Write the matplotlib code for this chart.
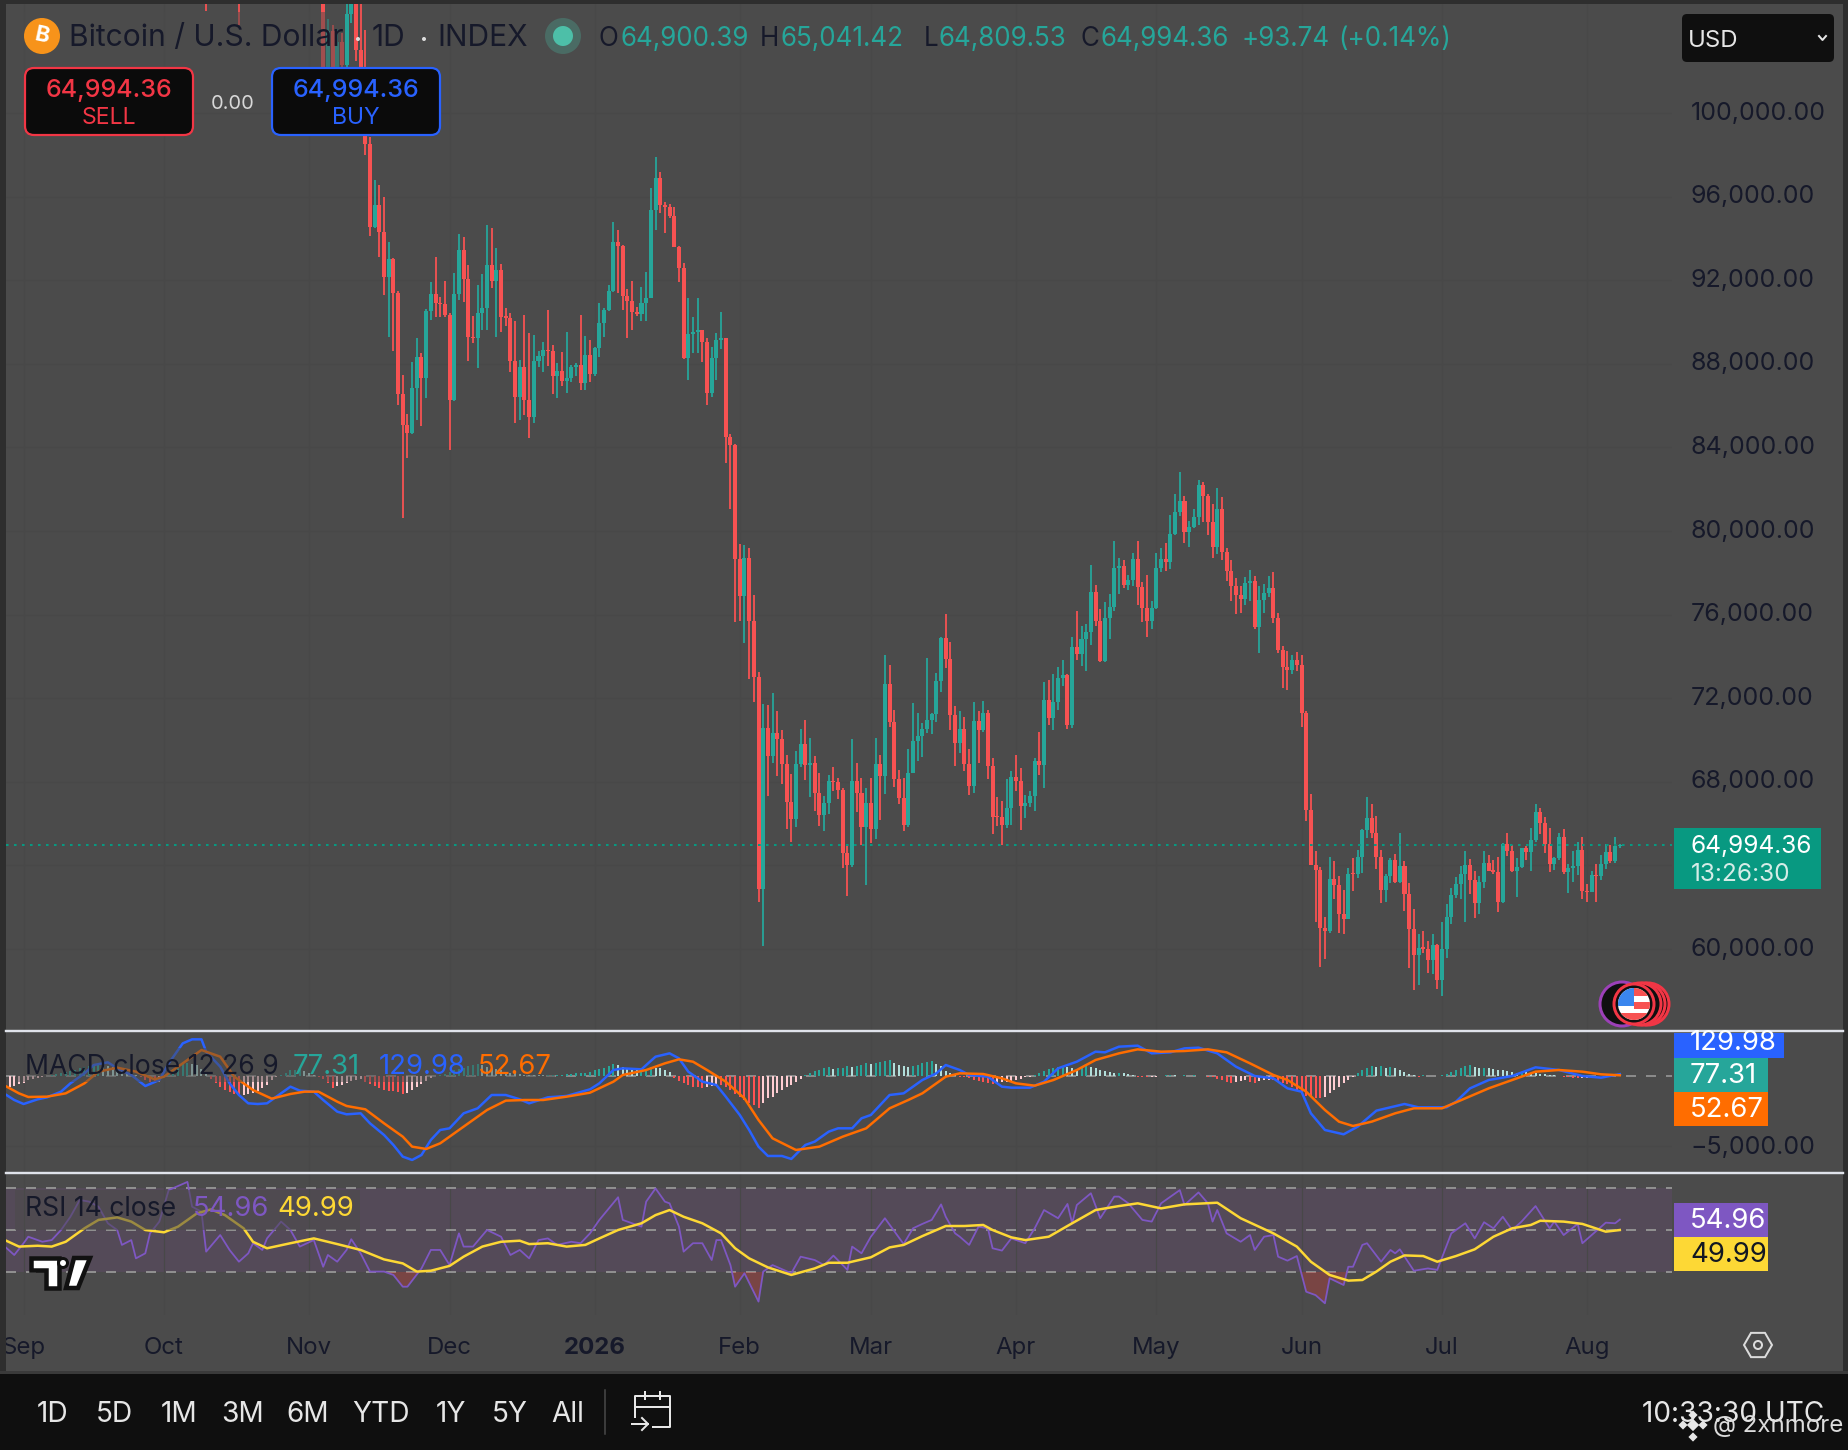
import numpy as np
import matplotlib
matplotlib.use("Agg")
import matplotlib.pyplot as plt
from matplotlib.patches import Rectangle, Circle, FancyBboxPatch, Polygon
from matplotlib.transforms import ScaledTranslation

plt.rcParams['font.family'] = ['Inter', 'DejaVu Sans']

W, H = 1848, 1450
BG = '#4b4b4b'
DARK = '#16192a'
TEAL = '#26a69a'
RED = '#f75252'

# days counted from 1 Sep 2025
month_days = [0, 30, 61, 91, 122, 153, 181, 212, 242, 273, 303, 334]
month_labels = ['Sep', 'Oct', 'Nov', 'Dec', '2026', 'Feb', 'Mar', 'Apr', 'May', 'Jun', 'Jul', 'Aug']

# candles d64..d341, read against the label centres, gridlines sit 110 USD higher
read_shift = 110
first_day = 64
first_open = 106000
closes = [
    101700,103800,101700,103300,102200,104650,105900,102900,101700,98400,
    94450,95485,94180,92055,92880,91300,86440,84960,84590,86750,
    88200,87225,90430,91230,90810,90750,90220,86155,91230,93330,
    91960,89185,89100,90300,90540,92615,91865,92400,90140,90100,
    88020,86315,87750,86155,85360,88020,88260,88550,88500,87300,
    87545,87065,87190,87750,87830,86950,88310,87400,88630,89855,
    90460,91370,93700,93540,91130,90910,90380,90270,90780,91050,
    95245,96760,95485,95375,94960,93490,92455,88150,89300,89425,
    89500,88945,86475,88150,89025,89100,84397,84020,78552,76792,
    78600,75595,72912,62744,70468,69118,70229,69956,68725,66930,
    66127,68725,69700,68674,68810,67357,66298,66880,67922,67870,
    67495,64486,63906,67922,67357,65735,66880,65650,68725,68178,
    72570,70742,68007,67135,65820,68332,69837,70058,70417,70827,
    71118,72707,74758,73767,71083,69750,70417,68760,67700,70797,
    70366,71164,68660,66220,66188,65820,66618,68102,67942,66746,
    66857,67208,68883,68692,71802,70957,71706,72870,72998,70606,
    74338,74003,74721,75056,76954,75582,73668,75710,76252,78134,
    78214,77305,77544,78549,77225,76204,75566,76204,78118,78549,
    78405,79745,80798,81324,79841,80064,80559,82090,81563,80319,
    79123,80925,78884,77975,77257,76826,76635,77400,77496,75295,
    76587,76922,77161,75726,74195,73381,73238,73716,73477,71180,
    66539,63907,63668,60892,60749,63237,62950,61562,61323,63476,
    63460,64290,65582,66156,65438,64290,62711,63380,64146,63093,
    63859,62519,60845,59600,59935,59900,59361,60079,58404,59887,
    61419,62471,62998,63476,63907,63189,62088,63093,64003,63620,
    63590,62136,64912,64577,63620,63811,64720,64529,65103,66443,
    65900,64912,63955,64242,65247,63572,63763,63859,64625,62663,
    62600,63428,63380,63955,64529,64098,64816,64884]
highs = [
    106500,104400,104100,103900,103700,105100,106500,107400,105200,103860,
    98750,96680,96440,95850,93700,92930,91370,87350,85470,87990,
    89110,88390,90510,91785,92980,91100,91850,90300,92215,94100,
    93970,92615,90175,91660,92185,94530,94370,93410,92650,90540,
    90335,89935,88070,90220,89345,89265,88520,88950,90460,88790,
    87910,88470,89425,87830,87940,90220,89215,89025,88710,90780,
    90540,91660,94690,94290,93580,91465,91850,90620,91580,92300,
    96285,97765,97050,95645,95535,95375,93525,92695,91020,90145,
    91020,89530,89100,88710,89345,90350,89140,84533,84050,79270,
    79220,79082,76826,73135,71596,71545,72143,71289,70383,69152,
    68264,69357,70400,70827,69974,69118,68332,67187,68212,68588,
    68093,67615,64914,69922,68776,68093,67615,68093,70007,69152,
    73938,73476,71323,68435,68076,69460,71682,71203,70690,73818,
    71186,73083,74810,75903,74570,71511,71271,70981,69460,71690,
    71276,71738,71324,69011,67145,66970,68022,68405,69170,68548,
    67256,67448,69011,70271,72680,72760,73046,73381,73716,73046,
    74816,76049,75343,75439,78262,77289,76156,76475,76858,79410,
    78581,78501,77783,78820,79410,77448,77783,76539,78836,79075,
    79315,80654,81659,82712,81563,80367,80941,82329,82233,81659,
    81181,81946,81516,79075,78501,77640,77257,77688,78023,77735,
    77257,77353,77735,77927,75965,74386,74147,73955,74099,73950,
    71260,67304,64577,63795,61419,64290,64098,63380,62711,63763,
    64242,64625,65629,67161,66826,66251,64625,63476,64242,64433,
    65438,64098,63046,61802,60605,60749,60254,60605,60120,61180,
    62041,62806,63333,63859,64577,64194,63620,63380,64577,64385,
    64146,64290,64960,65438,64864,64242,64720,64816,65677,66826,
    66634,66204,65677,64290,65438,65629,63955,64577,64992,65247,
    62998,63620,63955,64385,64912,64864,65247,64930]
lows = [
    100500,100800,100500,100000,101700,101700,104180,102400,100000,97880,
    94020,94370,93000,91180,89186,88520,85915,80525,83395,84550,
    85200,84930,86270,89985,90145,90145,90150,83760,86100,90940,
    90860,88020,88865,87700,89505,89505,91500,89185,89425,89695,
    87510,85070,85200,85440,84350,85040,87750,87510,87780,86430,
    86270,86825,86505,87030,87305,86635,86635,87030,87305,88200,
    89185,90430,91330,91300,90460,89140,89505,90175,89950,89950,
    91020,94290,95085,94130,94850,93460,91815,88120,87110,88390,
    88390,87990,85915,86315,87110,88600,83150,80945,75527,75595,
    74536,72827,71716,62146,60043,67221,68810,68178,67785,65650,
    65016,65735,68605,67990,67152,66504,65769,65529,66333,67443,
    67067,63770,62436,63820,66452,64880,62965,64965,65170,66076,
    67307,70520,67648,66845,65546,65735,68300,68896,69067,70229,
    70178,70742,72177,73340,70383,68639,69289,68417,67273,67368,
    68803,70287,68022,65390,65773,64864,65661,65820,67447,65581,
    66172,66698,66507,68213,67607,70606,70367,71324,72472,70414,
    70478,73716,73429,73206,74434,75343,73640,73636,74721,76061,
    76874,77145,77065,77273,76348,75518,74833,75199,76156,77911,
    77975,78070,79700,80606,79315,79123,80020,80176,80319,79697,
    78597,78788,78501,77496,76539,75917,75965,76348,76539,75199,
    74051,75965,76730,75486,74051,72376,72281,73046,73190,70525,
    66012,63900,61180,59026,59409,60653,62280,60653,60605,61300,
    62663,63285,63524,65199,65199,63715,62088,62136,63046,63050,
    63050,61706,58978,57926,58165,59696,58739,58691,57973,57639,
    59457,61084,62328,62280,61180,62519,61371,61562,62806,63600,
    63476,61658,62088,64337,63572,62376,63770,64146,63620,64992,
    65390,64481,63572,63668,64146,63476,62567,63093,63428,62280,
    62136,62600,62136,63189,63715,64003,64003,64700]

# only the lower wicks of these October days reach into the view
stub_days = [39, 46]
stub_lows = [104880, 104210]
stub_highs = [122000, 112000]

last_price = 64994.36
price_ticks = [60000, 64000, 68000, 72000, 76000, 80000, 84000, 88000, 92000, 96000, 100000]

macd_days = [-4,-2,0,3,5,8,10,13,15,18,20,23,26,29,31,34,36,38,39,42,44,46,48,50,52,54,57,59,62,64,
    67,69,72,74,77,79,81,83,85,87,89,91,94,97,100,103,106,108,112,116,121,123,126,128,132,135,138,140,142,145,
    148,150,153,155,157,159,162,164,167,169,172,174,177,179,181,185,188,192,195,197,200,202,206,209,211,215,218,221,225,229,
    231,234,238,241,245,248,251,255,259,263,267,270,273,275,278,282,285,289,292,295,298,304,306,309,313,318,323,328,333,337,341]
macd_vals = [-1285,-1714,-2000,-1666,-1523,-1119,-524,190,785,976,547,71,-714,-286,904,2332,2618,2618,1737,666,-524,-1357,-1952,-2000,-1952,-1476,-762,-1047,-1119,-1714,
    -2547,-2737,-2666,-3380,-4213,-4927,-5760,-5998,-5641,-4570,-3856,-3737,-2666,-2309,-1357,-1357,-1666,-1952,-1523,-1428,-952,-524,428,547,476,1380,1618,1261,309,-405,
    -643,-1476,-2785,-3856,-5046,-5712,-5712,-5926,-4927,-4689,-3975,-3737,-3737,-3023,-2785,-1357,-1238,-286,190,785,428,71,-48,-762,-833,-833,-405,547,1023,1737,
    1690,2094,2166,1618,1690,1975,2023,1618,666,0,-167,-881,-1119,-2666,-3856,-4165,-3618,-2475,-2237,-2000,-2237,-2237,-1833,-881,-286,0,619,428,0,-119,130]
signal_days = [-4,-1,1,5,9,13,16,20,24,28,30,34,38,42,45,49,53,57,60,63,67,69,73,77,81,83,86,89,94,99,
    103,107,111,116,121,126,128,133,137,140,143,146,150,154,157,160,165,170,175,180,185,189,192,197,200,205,209,212,216,220,
    225,229,234,238,243,248,253,257,262,267,270,274,278,281,284,288,293,297,303,308,313,318,323,328,333,337,341]
signal_vals = [-690,-1238,-1499,-1476,-1238,-524,309,595,309,-238,-48,904,1856,1380,-48,-1000,-1618,-1285,-1119,-1119,-1833,-2142,-2380,-3380,-4332,-5046,-5212,-4808,-3618,-2428,
    -1761,-1714,-1714,-1476,-1190,-405,71,428,904,1190,1023,428,-405,-1595,-3142,-4451,-5284,-5046,-4332,-3737,-2309,-1714,-1238,-48,190,143,-167,-524,-690,-286,
    428,1142,1618,1904,1737,1785,1904,1690,904,71,-286,-1119,-2428,-3261,-3570,-3261,-2666,-2309,-2309,-1595,-881,-286,309,428,309,119,53]
hist_start = -4
hist_vals = [-830,-780,-700,-600,-480,-300,-200,-120,-50,30,
    90,120,180,260,350,450,560,650,700,760,
    800,780,720,620,520,420,300,180,80,-80,
    -250,-450,-520,-400,-100,200,500,750,900,950,
    850,760,500,200,-200,-500,-800,-1000,-1150,-1300,
    -1400,-1350,-1300,-1200,-1050,-850,-650,-300,-100,100,
    250,400,450,500,350,200,50,-100,-200,-500,
    -850,-700,-650,-500,-350,-250,-200,-400,-550,-700,
    -850,-1000,-1050,-1100,-1150,-1300,-1200,-1000,-800,-600,
    -350,-150,0,80,150,300,450,500,600,700,
    800,850,780,650,550,500,400,300,250,200,
    150,100,80,60,50,40,40,60,80,100,
    130,150,180,200,250,300,400,500,600,700,
    850,800,650,500,450,400,400,500,650,600,
    550,450,300,-150,-350,-500,-650,-750,-800,-850,
    -750,-700,-600,-650,-800,-1000,-1300,-1500,-1700,-1900,
    -2100,-2300,-1900,-1600,-1500,-1200,-1000,-800,-650,-400,
    -200,50,200,350,450,600,650,500,550,600,
    700,650,700,800,900,850,950,1000,1050,1150,
    950,800,700,650,750,800,900,1000,1050,850,
    700,350,250,100,-50,-100,-150,-250,-350,-450,
    -500,-550,-500,-450,-400,-350,-300,-200,-100,-50,
    100,200,350,500,600,650,700,650,600,500,
    650,700,650,550,450,350,300,250,250,200,
    150,50,-50,-100,-100,-80,-60,-30,50,80,
    60,30,50,30,60,30,20,-40,-100,-200,
    -300,-450,-500,-400,-350,-300,-400,-500,-350,-300,
    -250,-300,-350,-500,-600,-800,-1000,-1250,-1400,-1500,
    -1550,-1600,-1500,-1200,-1000,-750,-500,-300,-100,250,
    400,600,700,650,700,600,650,550,450,300,
    150,50,-50,50,30,-30,30,50,150,300,
    450,600,750,800,650,600,600,550,500,450,
    400,350,300,250,300,280,250,200,150,120,
    100,80,20,-40,-80,-120,-150,-130,-110,-90,
    -60,-30,0,30,50,77]

rsi_days = [-4,-2,0,1,4,6,8,10,12,14,16,18,20,21,23,24,26,27,29,31,35,36,38,39,42,44,46,48,49,51,
    52,55,57,59,62,64,65,67,69,70,72,74,77,79,81,82,85,87,89,91,93,94,96,99,102,104,106,108,110,112,
    114,117,119,121,123,127,128,132,133,135,137,138,140,141,143,145,147,148,149,151,152,154,157,158,160,164,166,169,171,173,
    176,177,179,181,184,188,190,192,194,196,197,199,200,202,204,206,207,209,211,214,216,218,221,223,224,225,228,230,233,234,
    236,239,241,243,247,248,251,253,254,255,257,260,262,263,265,267,268,270,272,274,276,278,279,282,283,284,286,287,290,292,
    293,294,297,300,302,305,308,310,312,314,316,318,320,323,326,327,329,332,333,335,338,340,341]
rsi_vals = [42.1,38.1,43.7,46.8,44.4,45.2,50,56.3,64.3,63.5,61.1,53.2,50,42.9,45.2,36.5,38.9,48.4,54,69,72.9,61.1,58.7,39.7,47.6,40.5,34.9,38.9,43.7,40.5,
    46,54,50,42.1,45.2,32.5,38.1,34.9,40.5,45.6,38.9,30.2,30.2,28.6,23,23,31.7,40.5,40.5,33.3,48.4,42.1,42.1,50,46.8,38.1,40.5,36.5,45.2,46,
    42.9,44.4,43.7,48.4,54.8,65.6,54.8,51.6,63.5,69.8,63.5,62.7,51.6,39.7,43.7,43.7,35.7,45.2,45.2,33.3,23,29.4,15.9,30.2,33.3,29.4,37.3,35.7,33.3,37.8,
    31,42.1,38.9,46.8,55.6,43.3,50.8,52.9,54.8,62.2,56.3,48.4,46.8,42.9,51.6,50.8,41.3,40.2,46,43.7,50.8,59.5,55.6,62.4,53.2,61.9,67.5,55.6,65.9,65.9,
    62.7,54.8,54,62.7,69,61.9,67.9,62.7,54,59.5,48.4,44.4,47.6,40.5,46.8,47.6,37.3,35.4,37.6,20.6,19,15.1,27,23.8,32.5,32.5,42.9,43.7,34.9,40.5,
    38.9,40.8,30.6,31.7,31,48.4,53.2,46,53.7,50.8,56.3,50,54,61.4,50.8,54,47.6,52.9,43.7,47.6,53.5,53.2,54.96]
ma_days = [-4,-1,3,6,9,13,16,20,23,26,30,33,37,40,43,47,49,52,57,62,67,72,77,81,84,87,91,94,98,102,
    106,108,112,116,120,123,127,132,135,138,141,145,149,152,155,159,164,169,172,176,181,185,188,192,197,201,205,207,211,214,
    219,224,229,234,238,243,248,255,260,267,272,275,279,283,286,289,292,295,299,302,306,310,314,318,322,324,329,333,338,341]
ma_vals = [45.2,42.1,42.5,42.1,44.4,50.8,54.8,56,54,50,48.9,51.6,57.9,59.8,57.1,50.8,44.4,41.3,43.7,46,43.3,40.5,36,34.1,30.2,30.6,32.9,37.3,42.1,44.4,
    44.9,43.3,43.7,42.1,42.9,46,50,53.2,57.1,59.5,56.3,53.2,48.4,41.3,36.5,32.2,28.6,31.7,34.4,34.4,37,41.7,42.9,47.1,51.9,51.9,52.4,50,46.5,45.2,
    46.8,53.2,59.5,61.4,62.7,60.3,62.2,63,55.6,48.4,42.1,34.9,28.6,25.9,26.2,30.2,34.9,37.9,37.6,34.9,37.6,40.8,46.8,50.8,52.4,54.4,54,52.9,49.2,49.99]

range_buttons = ['1D', '5D', '1M', '3M', '6M', 'YTD', '1Y', '5Y', 'All']
range_button_px = [53, 114, 179, 243, 308, 381, 451, 510, 568]


def fs(px):
    return px * 0.72


def lw(px):
    return px * 0.72


def px_axes(x0, x1, ytop, ybot, z=1):
    a = fig.add_axes([x0 / W, 1 - ybot / H, (x1 - x0) / W, (ybot - ytop) / H], zorder=z)
    a.set_facecolor(BG)
    for s in a.spines.values():
        s.set_visible(False)
    return a


def day_of(px):
    return (px - 23.6) / 4.681


def lift_labels(a, px):
    # scale labels sit a little above their gridline
    for t in a.get_yticklabels():
        t.set_transform(t.get_transform() + ScaledTranslation(0, px / 100, fig.dpi_scale_trans))


fig = plt.figure(figsize=(W / 100, H / 100), dpi=100, facecolor=BG)

# price pane
ax = px_axes(6, 1672, 4, 1030)
ax.set_xlim(day_of(6), day_of(1672))
ax.set_ylim(100000 - (1030 - 113) * 47.85, 100000 - (4 - 113) * 47.85)

c = np.array(closes, float) + read_shift
o = np.r_[first_open + read_shift, c[:-1]]
hi = np.array(highs, float) + read_shift
lo = np.array(lows, float) + read_shift
days = np.arange(first_day, first_day + len(c))
cols = np.where(c >= o, TEAL, RED)
ax.vlines(stub_days, stub_lows, stub_highs, color=RED, lw=lw(1.8), zorder=2)
ax.vlines(days, lo, hi, color=cols, lw=lw(1.8), zorder=2)
body = np.maximum(np.abs(c - o), 60)
ax.bar(days, body, bottom=np.minimum(c, o), width=0.86, color=cols, linewidth=0, zorder=3)
ax.axhline(last_price, color='#089981', lw=lw(2), ls=(0, (1.3, 2.7)), zorder=4)

ax.set_yticks(price_ticks)
# the 64,000 label sits behind the last price tag
ax.set_yticklabels(['' if v == 64000 else f'{v:,.2f}' for v in price_ticks])
ax.yaxis.tick_right()
ax.tick_params(axis='y', length=0, pad=13.5, labelsize=fs(25), labelcolor=DARK)
lift_labels(ax, 2.3)
ax.set_xticks(month_days)
ax.tick_params(axis='x', length=0, labelbottom=False)
ax.grid(True, color='#484848', lw=lw(1.2))
ax.set_axisbelow(True)

# MACD pane
ax2 = px_axes(6, 1672, 1032, 1172)
ax2.set_xlim(ax.get_xlim())
ax2.set_ylim((1076 - 1172) * 5000 / 70, (1076 - 1032) * 5000 / 70)
hv = np.array(hist_vals, float)
hd = np.arange(hist_start, hist_start + len(hv))
prev = np.r_[hv[0], hv[:-1]]
hc = []
for v, p in zip(hv, prev):
    if v >= 0:
        hc.append('#26a69a' if v >= p else '#b2dfdb')
    else:
        hc.append('#ff5252' if v <= p else '#ffcdd2')
ax2.vlines(hd, 0, hv, color=hc, lw=lw(2), zorder=2)
ax2.axhline(0, color='#8a8a8a', lw=lw(2), ls=(0, (5, 5)), zorder=1)
ax2.plot(macd_days, macd_vals, color='#2962ff', lw=lw(2.5), zorder=3)
ax2.plot(signal_days, signal_vals, color='#ff6d00', lw=lw(2.5), zorder=4)
ax2.set_yticks([-5000])
ax2.set_yticklabels(['\u22125,000.00'])
ax2.yaxis.tick_right()
ax2.tick_params(axis='y', length=0, pad=13.5, labelsize=fs(25), labelcolor=DARK)
lift_labels(ax2, 1.5)
ax2.set_xticks(month_days)
ax2.tick_params(axis='x', length=0, labelbottom=False)
ax2.grid(True, color='#484848', lw=lw(1.2))
ax2.set_axisbelow(True)

# RSI pane
ax3 = px_axes(6, 1672, 1174, 1315)
ax3.set_xlim(ax.get_xlim())
ax3.set_ylim(50 + (1230 - 1315) / 2.1, 50 + (1230 - 1174) / 2.1)
ax3.axhspan(30, 70, color='#544a58', lw=0, zorder=0.5)
for lev in [30, 50, 70]:
    ax3.axhline(lev, color='#8f8f8f', lw=lw(2), ls=(0, (5, 5)), zorder=1)
ax3.fill_between(rsi_days, rsi_vals, 30, where=np.array(rsi_vals) < 30, interpolate=True,
                 color='#e53935', alpha=0.3, lw=0, zorder=2)
ax3.plot(rsi_days, rsi_vals, color='#7e57c2', lw=lw(1.8), zorder=3)
ax3.plot(ma_days, ma_vals, color='#fdd835', lw=lw(2.5), zorder=4)
ax3.set_yticks([])
ax3.set_xticks(month_days)
ax3.set_xticklabels(month_labels)
ax3.tick_params(axis='x', length=0, pad=15.5, labelsize=fs(24), labelcolor=DARK)
ax3.get_xticklabels()[4].set_fontweight('bold')
ax3.grid(True, axis='x', color='#484848', lw=lw(1.2))
ax3.set_axisbelow(True)

# overlay in pixel coordinates, for the widgets on top of the chart
ov = fig.add_axes([0, 0, 1, 1], zorder=5)
ov.set_xlim(0, W)
ov.set_ylim(H, 0)
ov.axis('off')
ov.patch.set_alpha(0)

# window edges and bottom bar
ov.add_patch(Rectangle((0, 0), W, 4, color='#2e2e2e', lw=0))
ov.add_patch(Rectangle((0, 0), 6, H, color='#2e2e2e', lw=0))
ov.add_patch(Rectangle((1843, 0), 5, H, color='#2e2e2e', lw=0))
ov.add_patch(Rectangle((0, 1371), W, 4, color='#3a3a3a', lw=0))
ov.add_patch(Rectangle((0, 1374), W, 76, color='#0f0f0f', lw=0))
ov.plot([6, 1843], [1031, 1031], color='#e0e3eb', lw=lw(2.4))
ov.plot([6, 1843], [1173, 1173], color='#e0e3eb', lw=lw(2.4))

# translucent legend strips over the lines
ov.add_patch(Rectangle((10, 12), 335, 56, color=BG, alpha=0.5, lw=0))
ov.add_patch(Rectangle((15, 1048), 540, 34, color=BG, alpha=0.5, lw=0))
ov.add_patch(Rectangle((15, 1190), 345, 40, color=BG, alpha=0.55, lw=0))

# title row
ov.add_patch(Circle((42, 36), 18, color='#f7931a', lw=0))
ov.text(42, 36, 'B', color='white', fontsize=fs(22), fontweight='bold', ha='center', va='center', rotation=-12)
ov.text(69, 38, 'Bitcoin / U.S. Dollar', color=DARK, fontsize=fs(30), va='center')
ov.text(372, 38, '1D', color=DARK, fontsize=fs(30), va='center')
ov.text(437, 38, 'INDEX', color=DARK, fontsize=fs(30), va='center')
ov.add_patch(Circle((358, 39), 2, color='#dddddd', lw=0))
ov.add_patch(Circle((424, 39), 2, color='#dddddd', lw=0))
ov.add_patch(Circle((563, 36), 18, color='#4a6b64', lw=0))
ov.add_patch(Circle((563, 36), 10, color='#4dbfa8', lw=0))
row = [(598, 'O', DARK), (620, '64,900.39', TEAL), (760, 'H', DARK), (781, '65,041.42', TEAL),
       (924, 'L', DARK), (939, '64,809.53', TEAL), (1080, 'C', DARK), (1101, '64,994.36', TEAL),
       (1241, '+93.74', TEAL), (1338, '(+0.14%)', TEAL)]
for x, s, col in row:
    ov.text(x, 39, s, color=col, fontsize=fs(26), va='center')

# buy and sell boxes
ov.add_patch(FancyBboxPatch((25, 68), 168, 67, boxstyle='round,pad=0,rounding_size=9', fc='#0b0b0b', ec='#f23645', lw=lw(2.2)))
ov.text(109, 90, '64,994.36', color='#f23645', fontsize=fs(25), fontweight='medium', ha='center', va='center')
ov.text(109, 118, 'SELL', color='#f23645', fontsize=fs(23), ha='center', va='center')
ov.text(233, 104, '0.00', color='#d8d8d8', fontsize=fs(20), ha='center', va='center')
ov.add_patch(FancyBboxPatch((272, 68), 168, 67, boxstyle='round,pad=0,rounding_size=9', fc='#0b0b0b', ec='#2962ff', lw=lw(2.2)))
ov.text(356, 90, '64,994.36', color='#2962ff', fontsize=fs(25), fontweight='medium', ha='center', va='center')
ov.text(356, 118, 'BUY', color='#2962ff', fontsize=fs(23), ha='center', va='center')

# currency dropdown
ov.add_patch(FancyBboxPatch((1682, 14), 152, 48, boxstyle='round,pad=0,rounding_size=5', fc='#0f0f0f', ec='none'))
ov.text(1688, 41, 'USD', color='#e6e6e6', fontsize=fs(24), va='center')
ov.plot([1819, 1822.5, 1826], [36, 40, 36], color='#e6e6e6', lw=lw(2))

# last price and indicator tags
ov.add_patch(Rectangle((1674, 828), 147, 61, color='#089981', lw=0))
ov.text(1690, 846, '64,994.36', color='white', fontsize=fs(24.5), va='center')
ov.text(1691, 874, '13:26:30', color='#d5ece7', fontsize=fs(24.5), va='center')
tags = [(1033, 25, 110, '#2962ff', '129.98', 'white'), (1058, 34, 94, '#26a69a', '77.31', 'white'),
        (1092, 34, 94, '#ff6d00', '52.67', 'white'), (1203, 34, 94, '#7e57c2', '54.96', 'white'),
        (1237, 34, 94, '#fdd835', '49.99', '#131722')]
for y, h, w, col, s, tc in tags:
    ov.add_patch(Rectangle((1674, y), w, h, color=col, lw=0))
    ov.text(1690, y + h / 2 + (-3 if h == 25 else 1), s, color=tc, fontsize=fs(27.5), va='center')

# indicator legends
ov.text(25, 1067, 'MACD close 12 26 9', color=DARK, fontsize=fs(26.5), va='center')
ov.text(293, 1067, '77.31', color='#26a69a', fontsize=fs(27.5), va='center')
ov.text(379, 1067, '129.98', color='#2962ff', fontsize=fs(27.5), va='center')
ov.text(478, 1067, '52.67', color='#ff6d00', fontsize=fs(27.5), va='center')
ov.text(25, 1209, 'RSI 14 close', color=DARK, fontsize=fs(26.5), va='center')
ov.text(193, 1209, '54.96', color='#7e57c2', fontsize=fs(27.5), va='center')
ov.text(277, 1209, '49.99', color='#fdd835', fontsize=fs(27.5), va='center')

# tradingview mark
logo = dict(fc='white', ec='#111111', lw=lw(4.5), joinstyle='miter')
ov.add_patch(Polygon([(31, 1258), (59, 1258), (59, 1288), (46, 1288), (46, 1270), (31, 1270)], **logo))
ov.add_patch(Polygon([(66, 1288), (78, 1288), (90, 1258), (74, 1258)], **logo))
ov.add_patch(Circle((63, 1263), 4.5, fc='white', ec='#111111', lw=lw(3)))

# flag badge
ov.add_patch(Circle((1622, 1004), 22, fc='#0f0f0f', ec='#9c40b8', lw=lw(3)))
for cx in [1648, 1644, 1640]:
    ov.add_patch(Circle((cx, 1004), 21, fc='#0f0f0f', ec='#f23645', lw=lw(3)))
ov.add_patch(Circle((1634, 1004), 20, fc='#0f0f0f', ec='#f23645', lw=lw(3)))
flag = Circle((1634, 1004), 16, fc='white', lw=0)
ov.add_patch(flag)
for x0, y0, w0, h0, col in [(1634, 988, 16, 8, '#f75252'), (1634, 1002, 16, 7, '#f75252'),
                            (1618, 1013, 32, 8, '#f75252'), (1618, 988, 16, 18, '#3a86ee')]:
    stripe = Rectangle((x0, y0), w0, h0, color=col, lw=0)
    ov.add_patch(stripe)
    stripe.set_clip_path(flag)

# settings hexagon
ang = np.radians(np.arange(0, 360, 60))
ov.add_patch(Polygon(np.c_[1758 + 14 * np.cos(ang), 1345 + 14 * np.sin(ang)], fc='none', ec='#dcdcdc', lw=lw(2)))
ov.add_patch(Circle((1758, 1345), 4, fc='none', ec='#dcdcdc', lw=lw(2)))

# bottom bar
for x, s in zip(range_button_px, range_buttons):
    ov.text(x, 1415, s, color='#e6e6e6', fontsize=fs(28), ha='center', va='center')
ov.plot([605, 605], [1390, 1434], color='#4a4a4a', lw=lw(1.5))
cal = '#e6e6e6'
ov.plot([635, 635, 670, 670, 653], [1417, 1396, 1396, 1427, 1427], color=cal, lw=lw(2))
ov.plot([635, 670], [1407, 1407], color=cal, lw=lw(2))
ov.plot([645, 645], [1392, 1399], color=cal, lw=lw(2))
ov.plot([660, 660], [1392, 1399], color=cal, lw=lw(2))
ov.plot([632, 648], [1424, 1424], color=cal, lw=lw(2))
ov.plot([642, 648, 642], [1418, 1424, 1430], color=cal, lw=lw(2))
ov.text(1824, 1414, '10:33:30 UTC', color='#e6e6e6', fontsize=fs(28), ha='right', va='center')

# watermark
ov.scatter([1693, 1683, 1703, 1693, 1693], [1425, 1425, 1425, 1415, 1437], marker='D', s=[40, 22, 22, 22, 22],
           color='#e6e6e6', linewidths=0, zorder=6)
ov.text(1713, 1426, '@ 2xnmore', color='#dcdcdc', fontsize=fs(24), va='center', zorder=6)

fig.savefig('out.png', dpi=100, facecolor=BG)
